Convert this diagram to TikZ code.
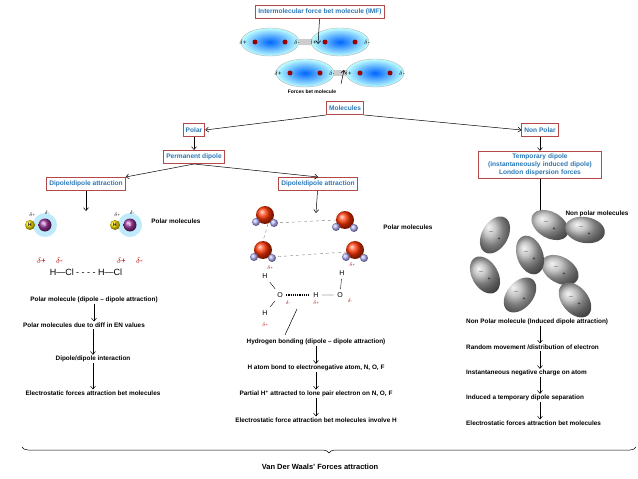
\documentclass[tikz,border=0pt]{standalone}
\usepackage{fontspec}
\setmainfont{Liberation Sans}
\usetikzlibrary{arrows.meta,decorations.pathreplacing,shadings,shapes.geometric}
\definecolor{bx}{HTML}{B5494A}
\definecolor{tb}{HTML}{2A78B8}
\begin{document}
\begin{tikzpicture}[x=1pt,y=-1pt,
 box/.style={draw=bx,line width=1pt,fill=white,text=tb,font=\fontsize{6.6}{7.6}\selectfont\bfseries,inner sep=2.5pt,minimum height=13pt,align=center},
 lab/.style={font=\fontsize{6.4}{7}\selectfont\bfseries,inner sep=1pt},
 arr/.style={-{Straight Barb[length=3pt,width=5pt]},line width=0.5pt},
 mol/.style={ellipse,draw=gray!60,inner color=blue!60!cyan,outer color=cyan!25,minimum width=58pt,minimum height=28pt}]
\useasboundingbox (0,0) rectangle (638,479);
% IMF picture
\foreach \x/\y [count=\i] in {270/42,340/42,305/73,375/73}{
 \node[mol] (m\i) at (\x,\y) {};
 \fill[red!60!black] (\x-15,\y) circle (2.5) (\x+15,\y) circle (2.5);
 \node[lab,font=\fontsize{6}{6}\selectfont] at (\x-27,\y) {$\delta$+};
 \node[lab,font=\fontsize{6}{6}\selectfont] at (\x+27,\y) {$\delta$-};
}
\fill[gray!40] (299,39) rectangle (311,45) (334,70) rectangle (346,76);
\node[box] (imf) at (320,12) {Intermolecular force bet molecule (IMF)};
\coordinate (imfp) at (318,44);
\draw[arr] (imf) -- (imfp);
\node[lab,font=\fontsize{5}{5}\selectfont\bfseries] (fbm) at (312,92) {Forces bet molecule};
\coordinate (fa) at (341,84); \coordinate (fb) at (344,70);
\draw[arr] (fa) -- (fb);
% tree
\node[box] (mols) at (345,108) {Molecules};
\node[box] (polar) at (194,130) {Polar};
\node[box] (np) at (540,130) {Non Polar};
\node[box] (perm) at (194,157) {Permanent dipole};
\node[box,text width=118pt] (temp) at (540,165) {Temporary dipole\\(instantaneously induced dipole)\\[1pt]London dispersion forces};
\node[box] (dl) at (86,184) {Dipole/dipole attraction};
\node[box] (dm) at (318,184) {Dipole/dipole attraction};
\draw[arr] (mols.south west) -- (polar.east);
\draw[arr] (mols.south east) -- (np.west);
\draw[arr] (polar) -- (perm);
\draw[arr] (np) -- (temp);
\draw[arr] (perm.south) -- (dl.north east);
\draw[arr] (perm.south) -- (dm.north);
\coordinate (dla) at (86,211); \draw[arr] (dl) -- (dla);
\coordinate (dma) at (316,213); \draw[arr] (dm) -- (dma);
\coordinate (tpa) at (540,232); \draw[arr] (temp) -- (tpa);
% left pictures: HI
\foreach \x in {30,115}{
 \fill[cyan!25] (\x+15,225) circle (12);
 \shade[ball color=yellow!80!orange] (\x,225) circle (5);
 \shade[ball color=violet!80] (\x+15,225) circle (6.5);
 \node[lab,font=\fontsize{5}{5}\selectfont\bfseries] at (\x,225) {H};
 \node[lab,white,font=\fontsize{5}{5}\selectfont\bfseries] at (\x+15,225) {I};
 \node[lab,font=\fontsize{4}{4}\selectfont] at (\x+2,215) {$\delta$+};
 \node[lab,font=\fontsize{4}{4}\selectfont] at (\x+17,213) {$\delta$-};
}
\node[lab] (pm1) at (176,221) {Polar molecules};
\node[font=\fontsize{8}{9}\selectfont,red!70!black] at (50,261) {$\delta$+\quad\ $\delta$-};
\node[font=\fontsize{8}{9}\selectfont,red!70!black] at (130,261) {$\delta$+\quad\ $\delta$-};
\node[font=\fontsize{9}{10}\selectfont] (hcl) at (86,272) {H---Cl - - - - H---Cl};
% middle water
\foreach \x/\y in {265/215,345/220,263/250,355/250}{
 \shade[ball color=red!60!orange] (\x,\y) circle (9);
 \shade[ball color=blue!30] (\x+9,\y+8) circle (4);
 \shade[ball color=blue!30] (\x-9,\y+7) circle (4);
}
\draw[dashed,gray] (274,223) -- (336,220) (272,257) -- (346,252) (268,224) -- (263,241);
\node[lab] (pm2) at (408,227) {Polar molecules};
\begin{scope}[font=\fontsize{7}{8}\selectfont]
\node (h1) at (265,276) {H}; \node (o1) at (280,295) {O}; \node (h2) at (265,313) {H};
\node (h3) at (316,295) {H}; \node (o2) at (340,295) {O}; \node (h4) at (342,273) {H};
\draw (h1) -- (o1) -- (h2); \draw (h3) -- (o2) -- (h4);
\draw[densely dotted,line width=1.2pt] (o1) -- (h3);
\end{scope}
\begin{scope}[red!70!black,font=\fontsize{4}{4}\selectfont]
\node at (270,268) {$\delta$+}; \node at (265,325) {$\delta$+}; \node at (288,303) {$\delta$-};
\node at (316,303) {$\delta$+}; \node at (350,301) {$\delta$-}; \node at (352,265) {$\delta$+};
\end{scope}
\coordinate (hb1) at (285,335); \coordinate (hb2) at (297,309);
\draw[line width=0.5pt] (hb1) -- (hb2);
% right nonpolar
\foreach \x/\y/\r in {495/235/-30,550/225/60,585/230/80,485/275/30,560/270/60,520/295/-40,575/300/40,530/255/20}{
 \shade[ball color=gray!60,rotate around={\r:(\x,\y)}] (\x,\y) ellipse (13 and 20);
 \node[font=\fontsize{5}{5}\selectfont] at (\x-4,\y-3) {$-$};
 \node[font=\fontsize{5}{5}\selectfont] at (\x+4,\y+4) {+};
}
\node[lab] (npm) at (597,214) {Non polar molecules};
% left chain
\node[lab] (l1) at (94,300) {Polar molecule (dipole -- dipole attraction)};
\node[lab] (l2) at (84,325) {Polar molecules due to diff in EN values};
\node[lab] (l3) at (93,359) {Dipole/dipole interaction};
\node[lab] (l4) at (93,393) {Electrostatic forces attraction bet molecules};
\draw[arr] (l1) -- (l1|-l2.north);
\draw[arr] (l2.south-|l3) -- (l3);
\draw[arr] (l3) -- (l4);
% middle chain
\node[lab] (m1) at (316,342) {Hydrogen bonding (dipole -- dipole attraction)};
\node[lab] (m2) at (316,368) {H atom bond to electronegative atom, N, O, F};
\node[lab] (m3) at (316,394) {Partial H\textsuperscript{+} attracted to lone pair electron on N, O, F};
\node[lab] (m4) at (316,420) {Electrostatic force attraction bet molecules involve H};
\draw[arr] (m1) -- (m2); \draw[arr] (m2) -- (m3); \draw[arr] (m3) -- (m4);
% right chain
\node[lab,anchor=west] (r1) at (465,322) {Non Polar molecule (Induced dipole attraction)};
\node[lab,anchor=west] (r2) at (465,347) {Random movement /distribution of electron};
\node[lab,anchor=west] (r3) at (465,373) {Instantaneous negative charge on atom};
\node[lab,anchor=west] (r4) at (465,398) {Induced a temporary dipole separation};
\node[lab,anchor=west] (r5) at (465,423) {Electrostatic forces attraction bet molecules};
\foreach \i/\j in {1/2,2/3,3/4,4/5}
 \draw[arr] (r\i.south -| temp.south) -- (r\j.north -| temp.south);
% brace
\coordinate (bl) at (22,447); \coordinate (br) at (636,447);
\draw[line width=0.5pt,decorate,decoration={brace,mirror,amplitude=6pt}] (bl) -- (br);
\node[font=\fontsize{7.5}{9}\selectfont\bfseries] (vdw) at (320,467) {Van Der Waals' Forces attraction};
\end{tikzpicture}
\end{document}
